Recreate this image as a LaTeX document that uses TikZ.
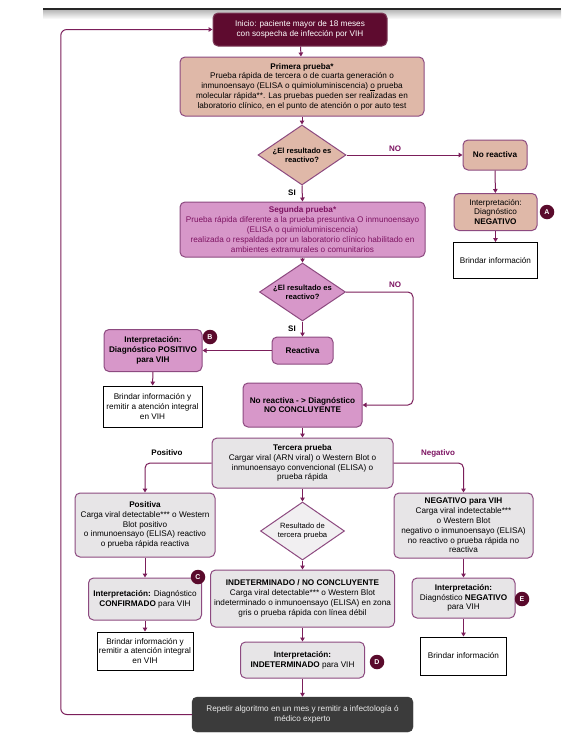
\documentclass[tikz,border=0pt]{standalone}
\usepackage{fontspec}
\setmainfont{Liberation Sans}
\usetikzlibrary{shapes.geometric,arrows.meta}
\definecolor{startc}{HTML}{5E0B2F}
\definecolor{bordc}{HTML}{8D4A80}
\definecolor{connc}{HTML}{7B1E5A}
\definecolor{tanc}{HTML}{DFB8A8}
\definecolor{pinkc}{HTML}{D797C9}
\definecolor{grayc}{HTML}{E7E5E7}
\definecolor{repc}{HTML}{3B3B3B}
\definecolor{purptext}{HTML}{7D1462}
\definecolor{badgec}{HTML}{5A0A2C}
\tikzset{
  basebox/.style={rectangle, rounded corners=5pt, draw=bordc, line width=1pt, align=center, inner sep=1pt, font=\fontsize{8.2}{9.8}\selectfont},
  startbox/.style={basebox, fill=startc, draw=startc!80!white, text=white},
  tanbox/.style={basebox, fill=tanc},
  pinkbox/.style={basebox, fill=pinkc},
  graybox/.style={basebox, fill=grayc},
  wbox/.style={rectangle, draw=black, line width=0.9pt, fill=white, align=center, inner sep=1pt, font=\fontsize{8.2}{9.8}\selectfont},
  repbox/.style={rectangle, rounded corners=5pt, fill=repc, draw=repc, text=white!92!black, align=center, inner sep=1pt, font=\fontsize{8.2}{9.8}\selectfont},
  dia/.style={diamond, aspect=1.5, draw=bordc, line width=1pt, align=center, inner sep=0pt, font=\fontsize{7.6}{9.4}\selectfont},
  badge/.style={circle, fill=badgec, text=white, inner sep=0pt, minimum size=14.5pt, font=\fontsize{7}{7}\selectfont\bfseries},
  conn/.style={draw=connc, line width=1pt, -{Triangle[length=4pt,width=4.5pt]}},
  lbl/.style={font=\fontsize{8}{9}\selectfont\bfseries, inner sep=0pt}
}
\begin{document}
\begin{tikzpicture}[x=1pt,y=-1pt]
\useasboundingbox (0,0) rectangle (583,739);
\fill[white] (0,0) rectangle (583,739);
% top rule with shadow
\shade[top color=gray!55, bottom color=white] (43,10) rectangle (561,19);
\draw[line width=2pt, black!85] (43,9) -- (561,9);

% nodes
\node[startbox, minimum width=174pt, minimum height=33pt] (start) at (300,29.5)
  {Inicio: paciente mayor de 18 meses\\con sospecha de infección por VIH};
\node[tanbox, minimum width=244pt, minimum height=59pt] (primera) at (302,86.5)
  {\textbf{Primera prueba*}\\Prueba rápida de tercera o de cuarta generación o\\inmunoensayo (ELISA o quimioluminiscencia) \underline{o} prueba\\molecular rápida**. Las pruebas pueden ser realizadas en\\laboratorio clínico, en el punto de atención o por auto test};
\node[dia, fill=tanc, minimum width=88pt, minimum height=60pt] (d1) at (302,155)
  {\textbf{¿El resultado es}\\\textbf{reactivo?}};
\node[tanbox, minimum width=64pt, minimum height=30pt] (noreact) at (495,155)
  {\textbf{No reactiva}};
\node[tanbox, minimum width=83pt, minimum height=37pt] (interpA) at (495.5,212)
  {Interpretación:\\Diagnóstico\\\textbf{NEGATIVO}};
\node[badge] (badgeA) at (547,212) {A};
\node[wbox, minimum width=84pt, minimum height=36pt] (brindarA) at (495.5,260.5)
  {Brindar información};

\node[pinkbox, text=purptext, minimum width=245pt, minimum height=55pt] (segunda) at (302.5,229.5)
  {\textbf{Segunda prueba*}\\Prueba rápida diferente a la prueba presuntiva O inmunoensayo\\(ELISA o quimioluminiscencia)\\realizada o respaldada por un laboratorio clínico habilitado en\\ambientes extramurales o comunitarios};
\node[dia, fill=pinkc, minimum width=86pt, minimum height=58pt] (d2) at (302.5,292)
  {\textbf{¿El resultado es}\\\textbf{reactivo?}};
\node[pinkbox, minimum width=61pt, minimum height=27pt] (reactiva) at (302.5,350.5)
  {\textbf{Reactiva}};
\node[pinkbox, minimum width=98pt, minimum height=42pt] (interpB) at (153,350.5)
  {\textbf{Interpretación:}\\\textbf{Diagnóstico POSITIVO}\\\textbf{para VIH}};
\node[badge] (badgeB) at (210,337) {B};
\node[wbox, minimum width=99pt, minimum height=41pt] (brindarB) at (152.5,406.5)
  {Brindar información y\\remitir a atención integral\\en VIH};
\node[pinkbox, minimum width=119pt, minimum height=44pt] (ncbox) at (302.5,405)
  {\textbf{No reactiva - > Diagnóstico}\\\textbf{NO CONCLUYENTE}};

\node[graybox, minimum width=181pt, minimum height=50pt] (tercera) at (302.5,463)
  {\textbf{Tercera prueba}\\Cargar viral (ARN viral) o Western Blot o\\inmunoensayo convencional (ELISA) o\\prueba rápida};
\node[graybox, minimum width=140pt, minimum height=64pt] (positiva) at (145,525)
  {\textbf{Positiva}\\Carga viral detectable*** o Western\\Blot positivo\\o inmunoensayo (ELISA) reactivo\\o prueba rápida reactiva};
\node[graybox, minimum width=139pt, minimum height=65pt] (negbox) at (463.5,525.5)
  {\textbf{NEGATIVO para VIH}\\Carga viral indetectable***\\o Western Blot\\negativo o inmunoensayo (ELISA)\\no reactivo o prueba rápida no\\reactiva};
\node[dia, fill=grayc!60!white, minimum width=84pt, minimum height=58pt] (d3) at (302.5,531)
  {Resultado de\\tercera prueba};
\node[graybox, minimum width=184pt, minimum height=57pt] (indet) at (302.5,598.5)
  {\textbf{INDETERMINADO / NO CONCLUYENTE}\\Carga viral detectable*** o Western Blot\\indeterminado o inmunoensayo (ELISA) en zona\\gris o prueba rápida con línea débil};
\node[graybox, minimum width=113pt, minimum height=42pt] (interpC) at (145,599)
  {\textbf{Interpretación:} Diagnóstico\\\textbf{CONFIRMADO} para VIH};
\node[badge] (badgeC) at (198,577) {C};
\node[wbox, minimum width=96pt, minimum height=38pt] (brindarC) at (145,651)
  {Brindar información y\\remitir a atención integral\\en VIH};
\node[graybox, minimum width=124pt, minimum height=36pt] (interpD) at (302.5,660)
  {\textbf{Interpretación:}\\\textbf{INDETERMINADO} para VIH};
\node[badge] (badgeD) at (377,662) {D};
\node[graybox, minimum width=103pt, minimum height=40pt] (interpE) at (463.5,598)
  {\textbf{Interpretación:}\\Diagnóstico \textbf{NEGATIVO}\\para VIH};
\node[badge] (badgeE) at (522,599) {E};
\node[wbox, minimum width=86pt, minimum height=38pt] (brindarE) at (463.5,656)
  {Brindar información};
\node[repbox, minimum width=221pt, minimum height=35pt] (repetir) at (302.5,714.5)
  {Repetir algoritmo en un mes y remitir a infectología ó\\médico experto};

% connectors
\draw[conn] (start) -- (primera);
\draw[conn] (primera) -- (d1);
\draw[conn] (d1.east) -- (noreact.west);
\node[lbl, text=purptext] (no1) at (395,149) {NO};
\draw[conn] (d1.south) -- (segunda.north);
\node[lbl] (si1) at (292,193) {SI};
\draw[conn] (noreact) -- (interpA);
\draw[conn] (interpA) -- (brindarA);
\draw[conn] (segunda.south) -- (d2.north);
\draw[conn, rounded corners=5pt] (d2.east) -- ++(67,0) |- (ncbox.east);
\node[lbl, text=purptext] (no2) at (395,285) {NO};
\draw[conn] (d2.south) -- (reactiva.north);
\node[lbl] (si2) at (292,329) {SI};
\draw[conn] (reactiva.west) -- (interpB.east);
\draw[conn] (interpB) -- (brindarB);
\draw[conn] (ncbox) -- (tercera);
\draw[conn, rounded corners=5pt] (tercera.west) -| (positiva.north);
\node[lbl] (pos) at (167,453) {Positivo};
\draw[conn, rounded corners=5pt] (tercera.east) -| (negbox.north);
\node[lbl, text=purptext] (neg) at (438,453) {Negativo};
\draw[conn] (tercera.south) -- (d3.north);
\draw[conn] (d3.south) -- (indet.north);
\draw[conn] (positiva) -- (interpC);
\draw[conn] (interpC) -- (brindarC);
\draw[conn] (negbox) -- (interpE);
\draw[conn] (interpE) -- (brindarE);
\draw[conn] (indet) -- (interpD);
\draw[conn] (interpD) -- (repetir);
\draw[conn, rounded corners=6pt] (repetir.west) -- ++(-131,0) |- (start.west);
\end{tikzpicture}
\end{document}
